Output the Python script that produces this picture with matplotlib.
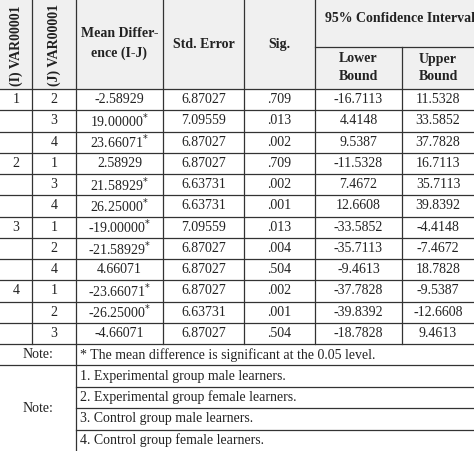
import matplotlib.pyplot as plt
from matplotlib.patches import Rectangle

# --- data ---
group_i = ["1", "", "", "2", "", "", "3", "", "", "4", "", ""]
group_j = ["2", "3", "4", "1", "3", "4", "1", "2", "4", "1", "2", "3"]
mean_diff = ["-2.58929", "19.00000*", "23.66071*", "2.58929", "21.58929*", "26.25000*",
             "-19.00000*", "-21.58929*", "4.66071", "-23.66071*", "-26.25000*", "-4.66071"]
std_err = ["6.87027", "7.09559", "6.87027", "6.87027", "6.63731", "6.63731",
           "7.09559", "6.87027", "6.87027", "6.87027", "6.63731", "6.87027"]
sig = [".709", ".013", ".002", ".709", ".002", ".001",
       ".013", ".004", ".504", ".002", ".001", ".504"]
lower = ["-16.7113", "4.4148", "9.5387", "-11.5328", "7.4672", "12.6608",
         "-33.5852", "-35.7113", "-9.4613", "-37.7828", "-39.8392", "-18.7828"]
upper = ["11.5328", "33.5852", "37.7828", "16.7113", "35.7113", "39.8392",
         "-4.4148", "-7.4672", "18.7828", "-9.5387", "-12.6608", "9.4613"]
note_star = "* The mean difference is significant at the 0.05 level."
notes = ["1. Experimental group male learners.",
         "2. Experimental group female learners.",
         "3. Control group male learners.",
         "4. Control group female learners."]

W, H = 474, 451
fig = plt.figure(figsize=(W / 100, H / 100), dpi=100)
ax = fig.add_axes([0, 0, 1, 1])
ax.set_xlim(0, W)
ax.set_ylim(H, 0)
ax.axis("off")

FONT = "Liberation Serif"
FS = 10
lw = 0.9

xs = [0, 32, 76, 163, 244, 315, 402, 474]
head_top, head_mid, head_bot = 0, 47, 89
row_h = 21.25
body_bot = head_bot + row_h * len(group_j)
note_h = (H - body_bot) / 5

ax.add_patch(Rectangle((0, 0), W, head_bot, color="#f0f0f0", zorder=0))

def txt(x, y, s, **kw):
    kw.setdefault("ha", "center")
    kw.setdefault("va", "center")
    ax.text(x, y, s, fontsize=FS, family=FONT, color="#222222", **kw)

def hline(y, x0=0, x1=W):
    ax.plot([x0, x1], [y, y], color="#333333", lw=lw)

def vline(x, y0, y1):
    ax.plot([x, x], [y0, y1], color="#333333", lw=lw)

# header
for xc, lab in [(16, "(I) VAR00001"), (54, "(J) VAR00001")]:
    t = ax.text(xc, head_bot - 3, lab, rotation=90, ha="center", va="bottom",
                fontsize=FS, family=FONT, weight="bold", color="#222222")
    t.set_clip_on(True)
txt((xs[2] + xs[3]) / 2, head_bot / 2 - 1, "Mean Differ-\nence (I-J)", weight="bold", linespacing=1.6)
txt((xs[3] + xs[4]) / 2, head_bot / 2, "Std. Error", weight="bold")
txt((xs[4] + xs[5]) / 2, head_bot / 2, "Sig.", weight="bold")
txt((xs[5] + W) / 2 + 6, 19, "95% Confidence Interval", weight="bold")
txt((xs[5] + xs[6]) / 2, (head_mid + head_bot) / 2, "Lower\nBound", weight="bold", linespacing=1.5)
txt((xs[6] + xs[7]) / 2, (head_mid + head_bot) / 2, "Upper\nBound", weight="bold", linespacing=1.5)
hline(head_mid, xs[5], W)
hline(head_bot)

# body
cols = [group_i, group_j, mean_diff, std_err, sig, lower, upper]
for r in range(len(group_j)):
    y = head_bot + row_h * (r + 0.5)
    for c, col in enumerate(cols):
        s = col[r]
        if s.endswith("*"):
            s = s[:-1] + "$^{*}$"
        txt((xs[c] + xs[c + 1]) / 2, y, s)
    hline(head_bot + row_h * (r + 1))

for x in xs[1:6]:
    vline(x, head_top, body_bot)
vline(xs[6], head_mid, body_bot)

# notes
txt(38, body_bot + note_h / 2, "Note:")
txt(80, body_bot + note_h / 2, note_star, ha="left")
txt(38, body_bot + note_h * 3, "Note:")
for i, n in enumerate(notes):
    y = body_bot + note_h * (i + 1.5)
    txt(80, y, n, ha="left")
    if i < 3:
        hline(body_bot + note_h * (i + 2), xs[2], W)
hline(body_bot + note_h)
vline(xs[2], body_bot, H)

fig.savefig("out.png", dpi=100)
